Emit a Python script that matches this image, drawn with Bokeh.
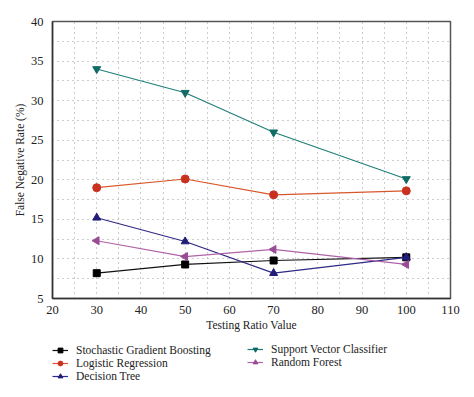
import numpy as np
from bokeh.plotting import figure
from bokeh.layouts import column
from bokeh.models import Legend, LegendItem, SingleIntervalTicker, Range1d
from bokeh.embed import file_html
from bokeh.resources import INLINE

x = [30, 50, 70, 100]
sgb = [8.2, 9.3, 9.8, 10.2]
lr = [19.0, 20.1, 18.1, 18.6]
dt = [15.2, 12.2, 8.2, 10.2]
svc = [34.0, 31.0, 26.0, 20.1]
rf = [12.3, 10.3, 11.2, 9.3]

names = ["Stochastic Gradient Boosting", "Logistic Regression", "Decision Tree",
         "Support Vector Classifier", "Random Forest"]
FONT = "Liberation Serif"

p = figure(width=470, height=343, output_backend="svg", toolbar_location=None,
           x_range=Range1d(20, 110), y_range=Range1d(5, 40),
           min_border_left=52, min_border_right=20, min_border_top=21, min_border_bottom=45)
p.outline_line_color = "#555555"
p.outline_line_width = 1.5
p.background_fill_color = "white"

for ax in (p.xaxis[0], p.yaxis[0]):
    ax.major_tick_line_color = None
    ax.minor_tick_line_color = None
    ax.axis_line_color = "#333333"
    ax.axis_line_width = 1.5
    ax.major_label_text_font = FONT
    ax.major_label_text_font_size = "12.5px"
    ax.major_label_text_color = "#222222"
    ax.axis_label_text_font = FONT
    ax.axis_label_text_font_size = "11.5px"
    ax.axis_label_text_font_style = "normal"
    ax.axis_label_text_color = "#222222"

p.xaxis.ticker = SingleIntervalTicker(interval=10, num_minor_ticks=0)
p.yaxis.ticker = SingleIntervalTicker(interval=5, num_minor_ticks=0)
p.xaxis.axis_label = "Testing Ratio Value"
p.yaxis.axis_label = "False Negative Rate (%)"
p.xaxis.major_label_standoff = 1
p.yaxis.major_label_standoff = 3
p.xaxis.axis_label_standoff = 2
p.yaxis.axis_label_standoff = 2

p.xgrid.ticker = SingleIntervalTicker(interval=5, num_minor_ticks=0)
p.ygrid.ticker = SingleIntervalTicker(interval=2.5, num_minor_ticks=0)
for g in (p.xgrid[0], p.ygrid[0]):
    g.grid_line_color = "#9a9a9a"
    g.grid_line_dash = "1 4"
    g.grid_line_width = 1

series = [
    (sgb, "#111111", "square", 0, 7),
    (lr, "#d9572b", "circle", 0, 8),
    (dt, "#2f2a86", "triangle", 0, 8),
    (svc, "#1f7f7a", "inverted_triangle", 0, 8),
    (rf, "#b063a8", "triangle", np.pi / 2, 8),
]
marker_colors = ["#000000", "#c9301e", "#221d78", "#0f6b66", "#9b4b96"]

# legend-only figure below the chart (its copies of the series lie outside its view)
q = figure(width=470, height=50, output_backend="svg", toolbar_location=None,
           x_range=Range1d(0, 1), y_range=Range1d(0, 1),
           x_axis_location=None, y_axis_location=None,
           min_border_left=0, min_border_right=0, min_border_top=0, min_border_bottom=0)
q.grid.visible = False
q.outline_line_color = None

items = []
for (ys, col, mk, ang, sz), mc, nm in zip(series, marker_colors, names):
    p.line(x, ys, line_color=col, line_width=1.2)
    p.scatter(x, ys, marker=mk, angle=ang, size=sz, fill_color=mc, line_color=mc)
    ln = q.line(x, ys, line_color=col, line_width=1.2)
    sc = q.scatter(x, ys, marker=mk, angle=ang, size=5, fill_color=mc, line_color=mc)
    items.append(LegendItem(label=nm, renderers=[ln, sc]))

common = dict(label_text_font=FONT, label_text_font_size="11.5px",
              label_text_color="#222222", glyph_width=16, glyph_height=12,
              label_height=12, spacing=1, padding=0, margin=0,
              border_line_color=None, background_fill_alpha=0, label_standoff=8)
leg1 = Legend(items=items[:3], location=(0, 11), **common)
leg2 = Legend(items=items[3:], location=(195, 25), **common)
q.add_layout(leg1, "center")
q.add_layout(leg2, "center")

open("out.html", "w").write(file_html(column(p, q), INLINE))
